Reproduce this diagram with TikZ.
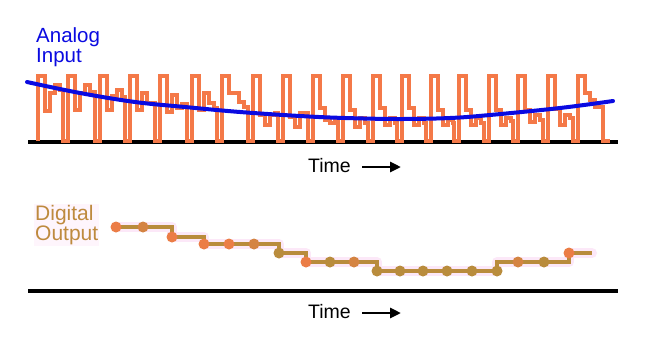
\documentclass[tikz,border=0pt]{standalone}
\usepackage{fontspec}
\setmainfont{Liberation Sans}
\usetikzlibrary{arrows.meta}
\definecolor{wavecol}{RGB}{244,121,72}
\definecolor{bluecol}{RGB}{10,10,225}
\definecolor{olivecol}{RGB}{185,140,60}
\definecolor{dotorange}{RGB}{235,125,70}
\definecolor{dotmix}{RGB}{212,132,66}
\definecolor{halocol}{RGB}{252,232,248}
\definecolor{digtext}{RGB}{190,138,62}
\tikzset{
  wave/.style={draw=wavecol, line width=3.2pt, line join=miter},
  analogcurve/.style={draw=bluecol, line width=4pt, line cap=round},
  axisline/.style={draw=black, line width=3.5pt},
  steplineb/.style={draw=halocol, line width=10pt, line join=round, line cap=round},
  stepline/.style={draw=olivecol, line width=3.4pt},
  dotnode/.style={circle, inner sep=0pt, minimum size=11pt, fill=#1},
  lbl/.style={inner sep=0pt, align=left},
  timelbl/.style={inner sep=0pt, anchor=base west, font=\fontsize{19.5}{20}\selectfont},
  timearrow/.style={draw=black, line width=2.8pt, -{Triangle[length=11pt,width=10pt]}}
}
\begin{document}
\begin{tikzpicture}[x=1pt,y=-1pt]
\useasboundingbox[fill=white] (0,0) rectangle (646,360);

% labels
\node[lbl, anchor=north west, text=bluecol, font=\fontsize{20.5}{20}\selectfont] (analog) at (36,27) {Analog\\Input};
\node[lbl, anchor=north west, text=digtext, font=\fontsize{21}{20}\selectfont, fill=halocol!45, inner sep=1pt] (digital) at (34,204) {Digital\\Output};

% axes
\coordinate (ax1a) at (28,142);
\coordinate (ax1b) at (618,142);
\coordinate (ax2a) at (28,291);
\coordinate (ax2b) at (618,291);
\draw[axisline] (ax1a) -- (ax1b);
\draw[axisline] (ax2a) -- (ax2b);

% sampled waveform
\draw[wave] (38,141)
  foreach \s/\a/\b/\c/\d/\e in {
    38/111/93/85/90/63,
    68/110/93/85/92/95,
    100/110/96/90/97/125,
    130/110/93/103/103/155,
    160/112/95/108/104/187,
    192/110/93/103/108/217,
    222/93/93/102/107/248,
    253/115/125/115/113/278,
    283/117/127/113/113/308,
    313/108/120/123/118/338,
    343/110/127/118/123/368,
    373/108/125/118/123/397,
    402/108/125/118/123/426,
    431/110/125/120/123/454,
    459/110/125/118/123/484,
    489/110/125/118/121/513,
    518/110/122/115/120/543,
    548/109/125/115/118/573,
    578/93/100/107/107/603}
  { -- (\s,141) -- (\s,76) -- ({\s+7},76) -- ({\s+7},\a) -- ({\s+12},\a)
    -- ({\s+12},\b) -- ({\s+17},\b) -- ({\s+17},\c) -- ({\s+22},\c)
    -- ({\s+22},\d) -- (\e,\d) -- (\e,141) }
  -- (610,141);

% analog input curve
\draw[analogcurve] plot[smooth, tension=0.6] coordinates {
  (27,82) (80,93) (135,102) (185,107) (240,112) (300,116) (345,118)
  (400,119) (450,118) (490,115) (560,108) (613,101)};

% time labels
\node[timelbl] (time1) at (308,172) {Time};
\coordinate (t1a) at (362,167);
\coordinate (t1b) at (401,167);
\draw[timearrow] (t1a) -- (t1b);
\node[timelbl] (time2) at (308,318) {Time};
\coordinate (t2a) at (362,313);
\coordinate (t2b) at (401,313);
\draw[timearrow] (t2a) -- (t2b);

% digital output
\coordinate (p1) at (116,227);
\coordinate (p2) at (143,227);
\coordinate (p3) at (172,237);
\coordinate (p4) at (204,244);
\coordinate (p5) at (229,244);
\coordinate (p6) at (254,244);
\coordinate (p7) at (279,253);
\coordinate (p8) at (306,262);
\coordinate (p9) at (330,262);
\coordinate (p10) at (354,262);
\coordinate (p11) at (377,271);
\coordinate (p12) at (400,271);
\coordinate (p13) at (423,271);
\coordinate (p14) at (447,271);
\coordinate (p15) at (472,271);
\coordinate (p16) at (497,271);
\coordinate (p17) at (518,262);
\coordinate (p18) at (544,262);
\coordinate (p19) at (569,253);
\coordinate (pend) at (592,253);
\foreach \st in {steplineb, stepline}{
  \draw[\st] (p1) -| (p2) -| (p3) -| (p4) -| (p5) -| (p6) -| (p7) -| (p8)
    -| (p9) -| (p10) -| (p11) -| (p12) -| (p13) -| (p14) -| (p15) -| (p16)
    |- (p17) -| (p18) -| (p19) -- (pend);
}
\foreach \i/\c in {1/dotorange, 2/dotmix, 3/dotorange, 4/dotorange, 5/dotorange,
  6/dotmix, 7/olivecol, 8/dotorange, 9/olivecol, 10/dotmix, 11/olivecol,
  12/olivecol, 13/olivecol, 14/olivecol, 15/olivecol, 16/olivecol,
  17/dotmix, 18/olivecol, 19/dotorange}{
  \node[dotnode=\c] (d\i) at (p\i) {};
}
\end{tikzpicture}
\end{document}
